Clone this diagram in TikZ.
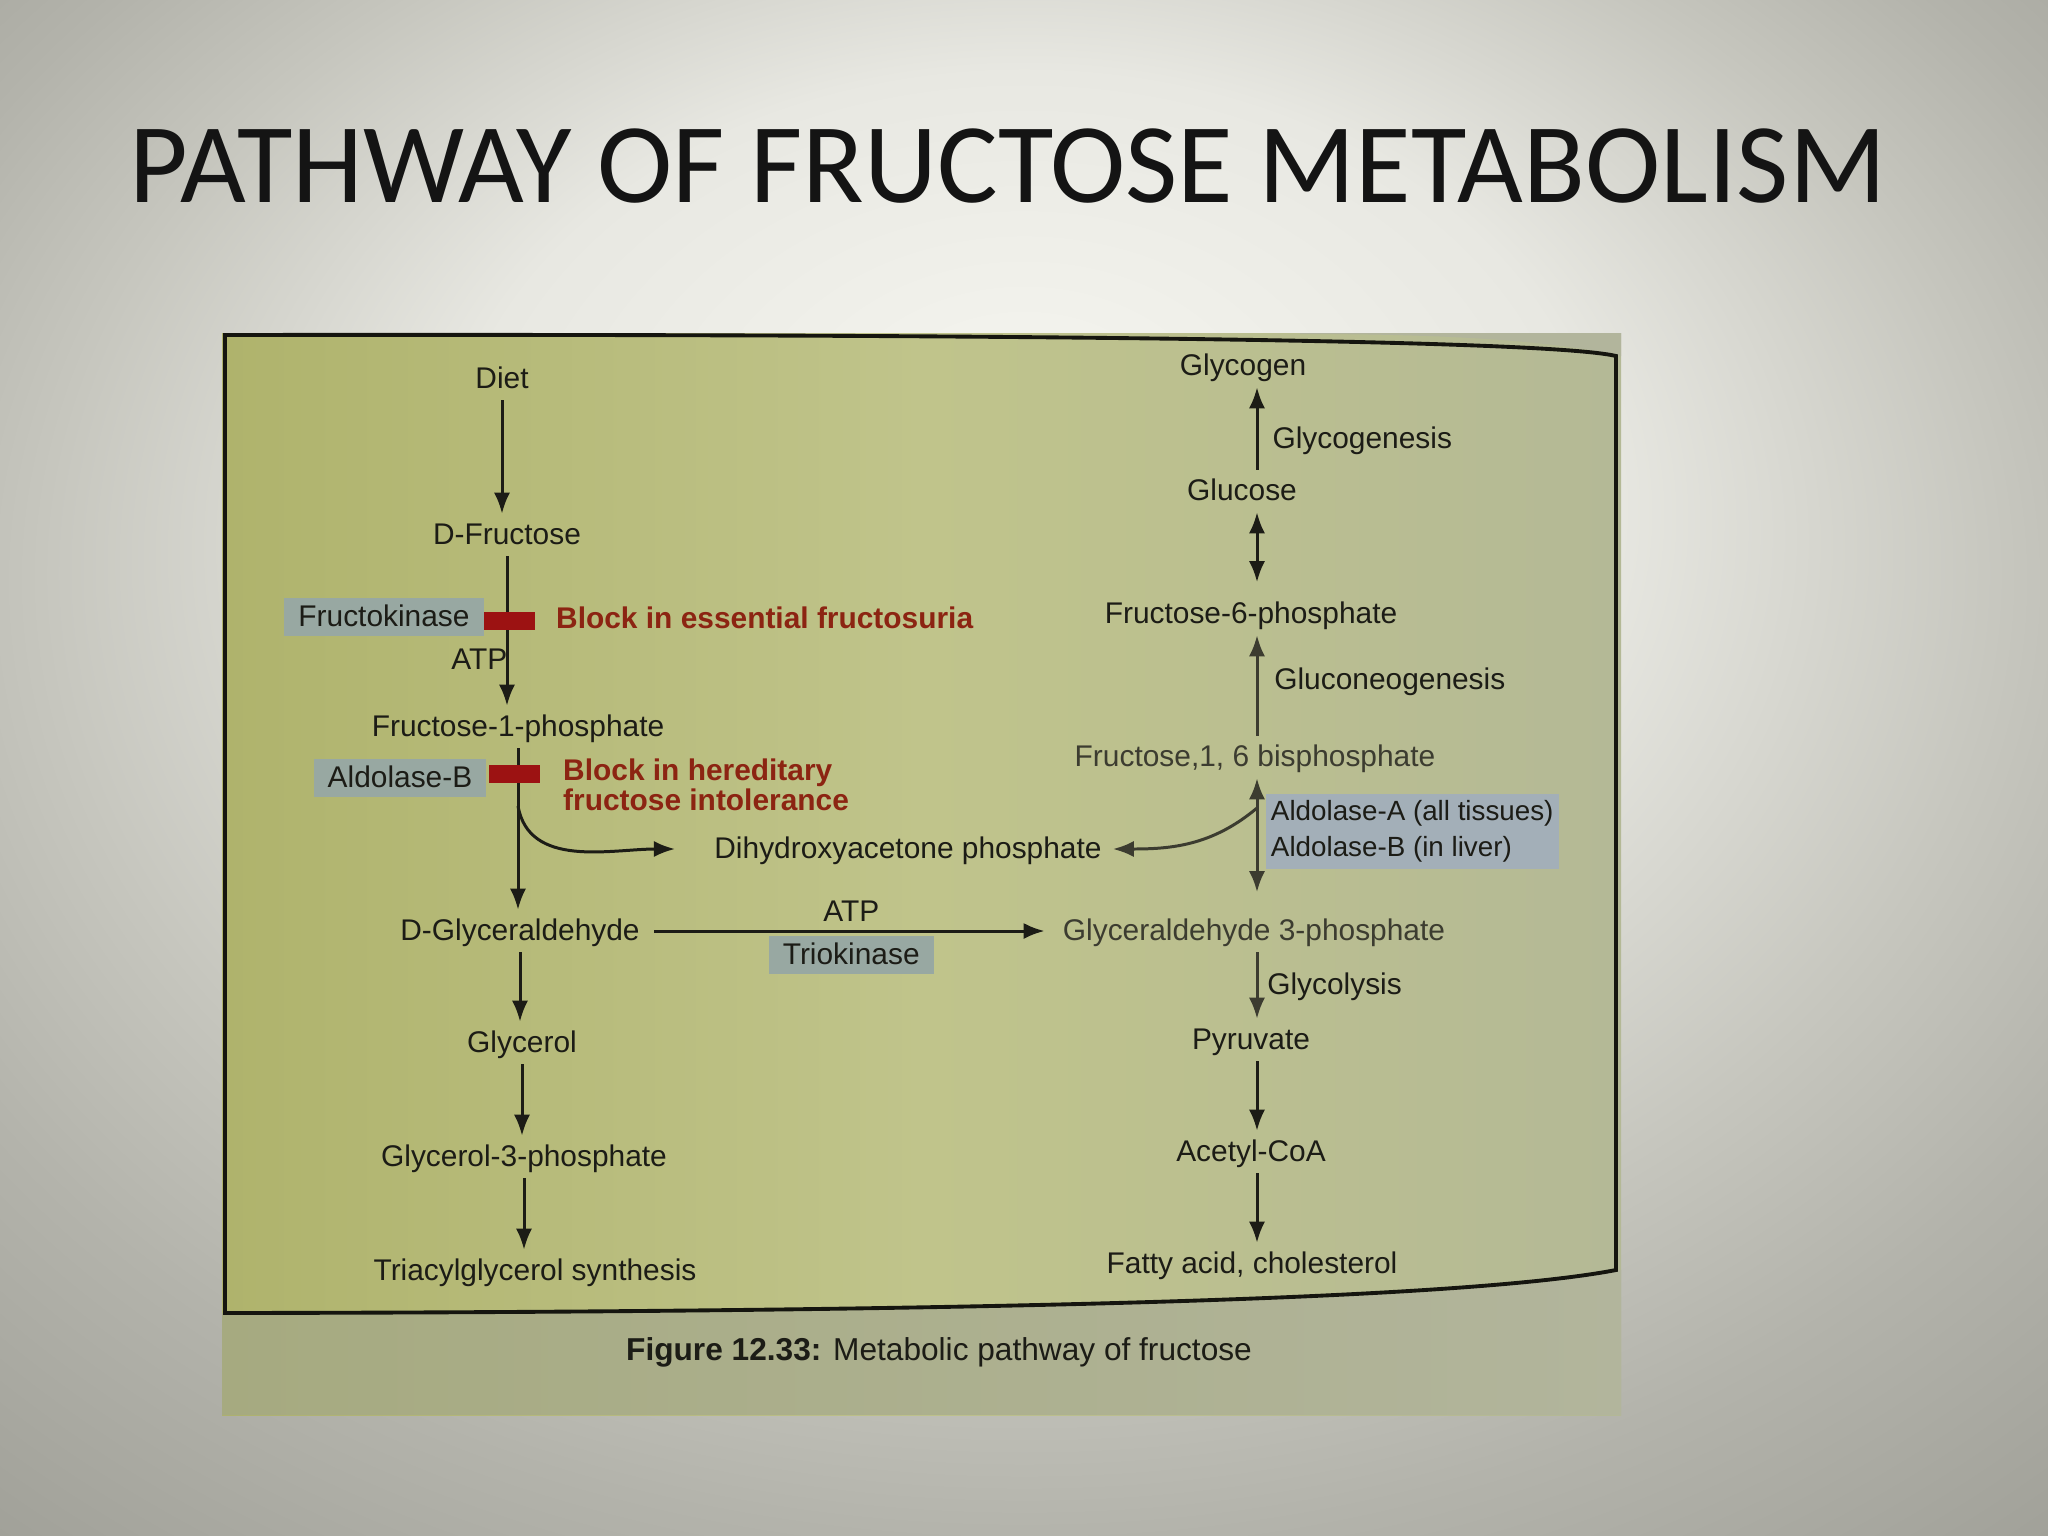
\documentclass[tikz,border=0pt]{standalone}
\usepackage{fontspec}
\setmainfont{Liberation Sans}
\newfontfamily\slidefont{Carlito}
\usetikzlibrary{arrows.meta}

\definecolor{slidelight}{HTML}{F5F5EF}
\definecolor{slidemid}{HTML}{E8E8E2}
\definecolor{slideedge}{HTML}{C6C6BE}
\definecolor{slidedark}{HTML}{B3B3AB}
\definecolor{slidecorner}{HTML}{A0A098}
\definecolor{paperleft}{HTML}{AFB36C}
\definecolor{papermid}{HTML}{C0C48B}
\definecolor{paperright}{HTML}{B4B996}
\definecolor{stripleft}{HTML}{A6AA80}
\definecolor{stripright}{HTML}{B2B59C}
\definecolor{framecol}{HTML}{15150F}
\definecolor{ink}{HTML}{1C1C16}
\definecolor{inkgray}{HTML}{3C3C30}
\definecolor{enzgray}{HTML}{98A8A2}
\definecolor{enzblue}{HTML}{A3AFB8}
\definecolor{blockred}{HTML}{9C1212}
\definecolor{blocktext}{HTML}{8C2412}

\pgfdeclareradialshading{slideglow}{\pgfpoint{0bp}{12bp}}{color(0bp)=(slidelight); color(14bp)=(slidemid); color(24bp)=(slideedge); color(30bp)=(slidedark); color(38bp)=(slidecorner); color(50bp)=(slidecorner)}
\pgfdeclarehorizontalshading{papershade}{100bp}{color(0bp)=(paperleft); color(25bp)=(paperleft); color(50bp)=(papermid); color(75bp)=(paperright); color(100bp)=(paperright)}
\pgfdeclarehorizontalshading{stripshade}{100bp}{color(0bp)=(stripleft); color(25bp)=(stripleft); color(75bp)=(stripright); color(100bp)=(stripright)}

\begin{document}
\begin{tikzpicture}[x=0.01cm, y=-0.01cm,
    pathway/.style={font=\fontsize{8.5}{10}\selectfont, text=ink, inner sep=1pt,
      text height=0.75em, text depth=0.22em},
    enzyme/.style={pathway, fill=enzgray, inner xsep=4pt, inner ysep=0.6pt},
    aldobox/.style={font=\fontsize{7.9}{10}\selectfont, text=ink, fill=enzblue,
      align=left, inner xsep=1.5pt, inner ysep=2pt},
    redblock/.style={fill=blockred, minimum width=14.5pt, minimum height=5.2pt, inner sep=0pt},
    blocknote/.style={font=\fontsize{8.5}{8.4}\selectfont\bfseries, text=blocktext, inner sep=1pt},
    flow/.style={draw=ink, line width=0.85pt, -{Latex[length=6pt,width=4.6pt]}},
    flowgray/.style={flow, draw=inkgray},
    both/.style={{Latex[length=6pt,width=4.6pt]}-{Latex[length=6pt,width=4.6pt]}}]
  \useasboundingbox (0,0) rectangle (2048,1536);

  % slide and the photographed page
  \shade[shading=slideglow] (0,0) rectangle (2048,1536);
  \shade[shading=papershade] (222,333) rectangle (1621,1415);
  \shade[shading=stripshade] (225,1313) .. controls (900,1312) and (1450,1302) .. (1616,1270)
    -- (1621,1270) -- (1621,1415) -- (222,1415) -- (222,1313) -- cycle;
  \fill[stripright] (1300,333) -- (1621,333) -- (1621,356)
    .. controls (1540,338) and (1420,334) .. (1300,334) -- cycle;
  \draw[line width=1.1pt, draw=framecol] (1616,356) .. controls (1540,338) and (900,334) .. (225,335)
    -- (225,1313) .. controls (900,1312) and (1450,1302) .. (1616,1270) -- cycle;

  % title and caption
  \node[font=\slidefont\fontsize{32.3}{32}\selectfont, text=black!92] (title) at (1008,166)
    {PATHWAY OF FRUCTOSE METABOLISM};
  \node[font=\fontsize{9}{11}\selectfont, text=ink] (caption) at (939,1352)
    {\textbf{Figure 12.33:} Metabolic pathway of fructose};

  % left column
  \node[pathway] (diet) at (502,379) {Diet};
  \node[pathway] (dfru) at (507,535) {D-Fructose};
  \node[pathway] (fruop) at (518,727) {Fructose-1-phosphate};
  \node[pathway] (dgly) at (520,931) {D-Glyceraldehyde};
  \node[pathway] (glyc) at (522,1043) {Glycerol};
  \node[pathway] (glytp) at (524,1157) {Glycerol-3-phosphate};
  \node[pathway] (tag) at (535,1271) {Triacylglycerol synthesis};
  \node[enzyme] (fkin) at (384,617) {Fructokinase};
  \node[pathway, anchor=east, inner sep=0pt] (atpone) at (508,660) {ATP};
  \node[enzyme] (aldb) at (400,778) {Aldolase-B};
  \node[blocknote, anchor=west] (fruria) at (552,618) {Block in essential fructosuria};
  \node[blocknote, anchor=west, align=left] (hfi) at (559,785) {Block in hereditary\\fructose intolerance};
  \node[pathway] (dhap) at (908,849) {Dihydroxyacetone phosphate};

  % right column
  \node[pathway] (glycogen) at (1243,366) {Glycogen};
  \node[pathway] (glucose) at (1242,491) {Glucose};
  \node[pathway] (fsixp) at (1251,614) {Fructose-6-phosphate};
  \node[pathway, text=inkgray] (fbp) at (1255,757) {Fructose,1, 6 bisphosphate};
  \node[pathway, text=inkgray] (gap) at (1254,931) {Glyceraldehyde 3-phosphate};
  \node[pathway] (pyr) at (1251,1040) {Pyruvate};
  \node[pathway] (acoa) at (1251,1152) {Acetyl-CoA};
  \node[pathway] (fatty) at (1252,1264) {Fatty acid, cholesterol};
  \node[aldobox, anchor=north west] (aldo) at (1265,793) {Aldolase-A (all tissues)\\Aldolase-B (in liver)};
  \coordinate (rcol) at (1257,0);
  \coordinate (split) at (518,806);
  \coordinate (fork) at (1257,808);

  \draw[flow] (diet) -- (diet |- dfru.north);
  \draw[flow] (dfru) -- (dfru |- fruop.north);
  \draw[flow] (fruop) -- (fruop |- dgly.north);
  \draw[flow] (dgly) -- (dgly |- glyc.north);
  \draw[flow] (glyc) -- (glyc |- glytp.north);
  \draw[flow] (glytp) -- (glytp |- tag.north);
  \draw[flow] (split) to[out=-80, in=180] ([xshift=-10pt]dhap.west);
  \draw[flow, shorten <=3pt, shorten >=4pt] (dgly) --
    node[pathway, above, inner sep=0pt] (atptwo) {ATP}
    node[enzyme, below, yshift=-1pt] (triok) {Triokinase} (gap);

  \draw[flow] (glucose.north -| rcol) --
    node[pathway, right, xshift=3pt, pos=0.37] (glygen) {Glycogenesis} (glycogen.south -| rcol);
  \draw[flow, both, shorten >=3pt] (glucose.south -| rcol) -- (fsixp.north -| rcol);
  \draw[flowgray] (fbp.north -| rcol) --
    node[pathway, right, xshift=3.5pt, pos=0.55] (gluneo) {Gluconeogenesis} (fsixp.south -| rcol);
  \draw[flowgray, both, shorten >=5pt] (fbp.south -| rcol) -- (gap.north -| rcol);
  \draw[flowgray] (fork) to[out=-140, in=0] ([xshift=2pt]dhap.east);
  \draw[flowgray] (gap.south -| rcol) --
    node[pathway, right, xshift=1.5pt] (glyly) {Glycolysis} (pyr.north -| rcol);
  \draw[flow] (pyr.south -| rcol) -- (acoa.north -| rcol);
  \draw[flow] (acoa.south -| rcol) -- (fatty.north -| rcol);

  % enzyme blocks
  \node[redblock] (blkone) at (509,621) {};
  \node[redblock] (blktwo) at (514,774) {};
\end{tikzpicture}
\end{document}
